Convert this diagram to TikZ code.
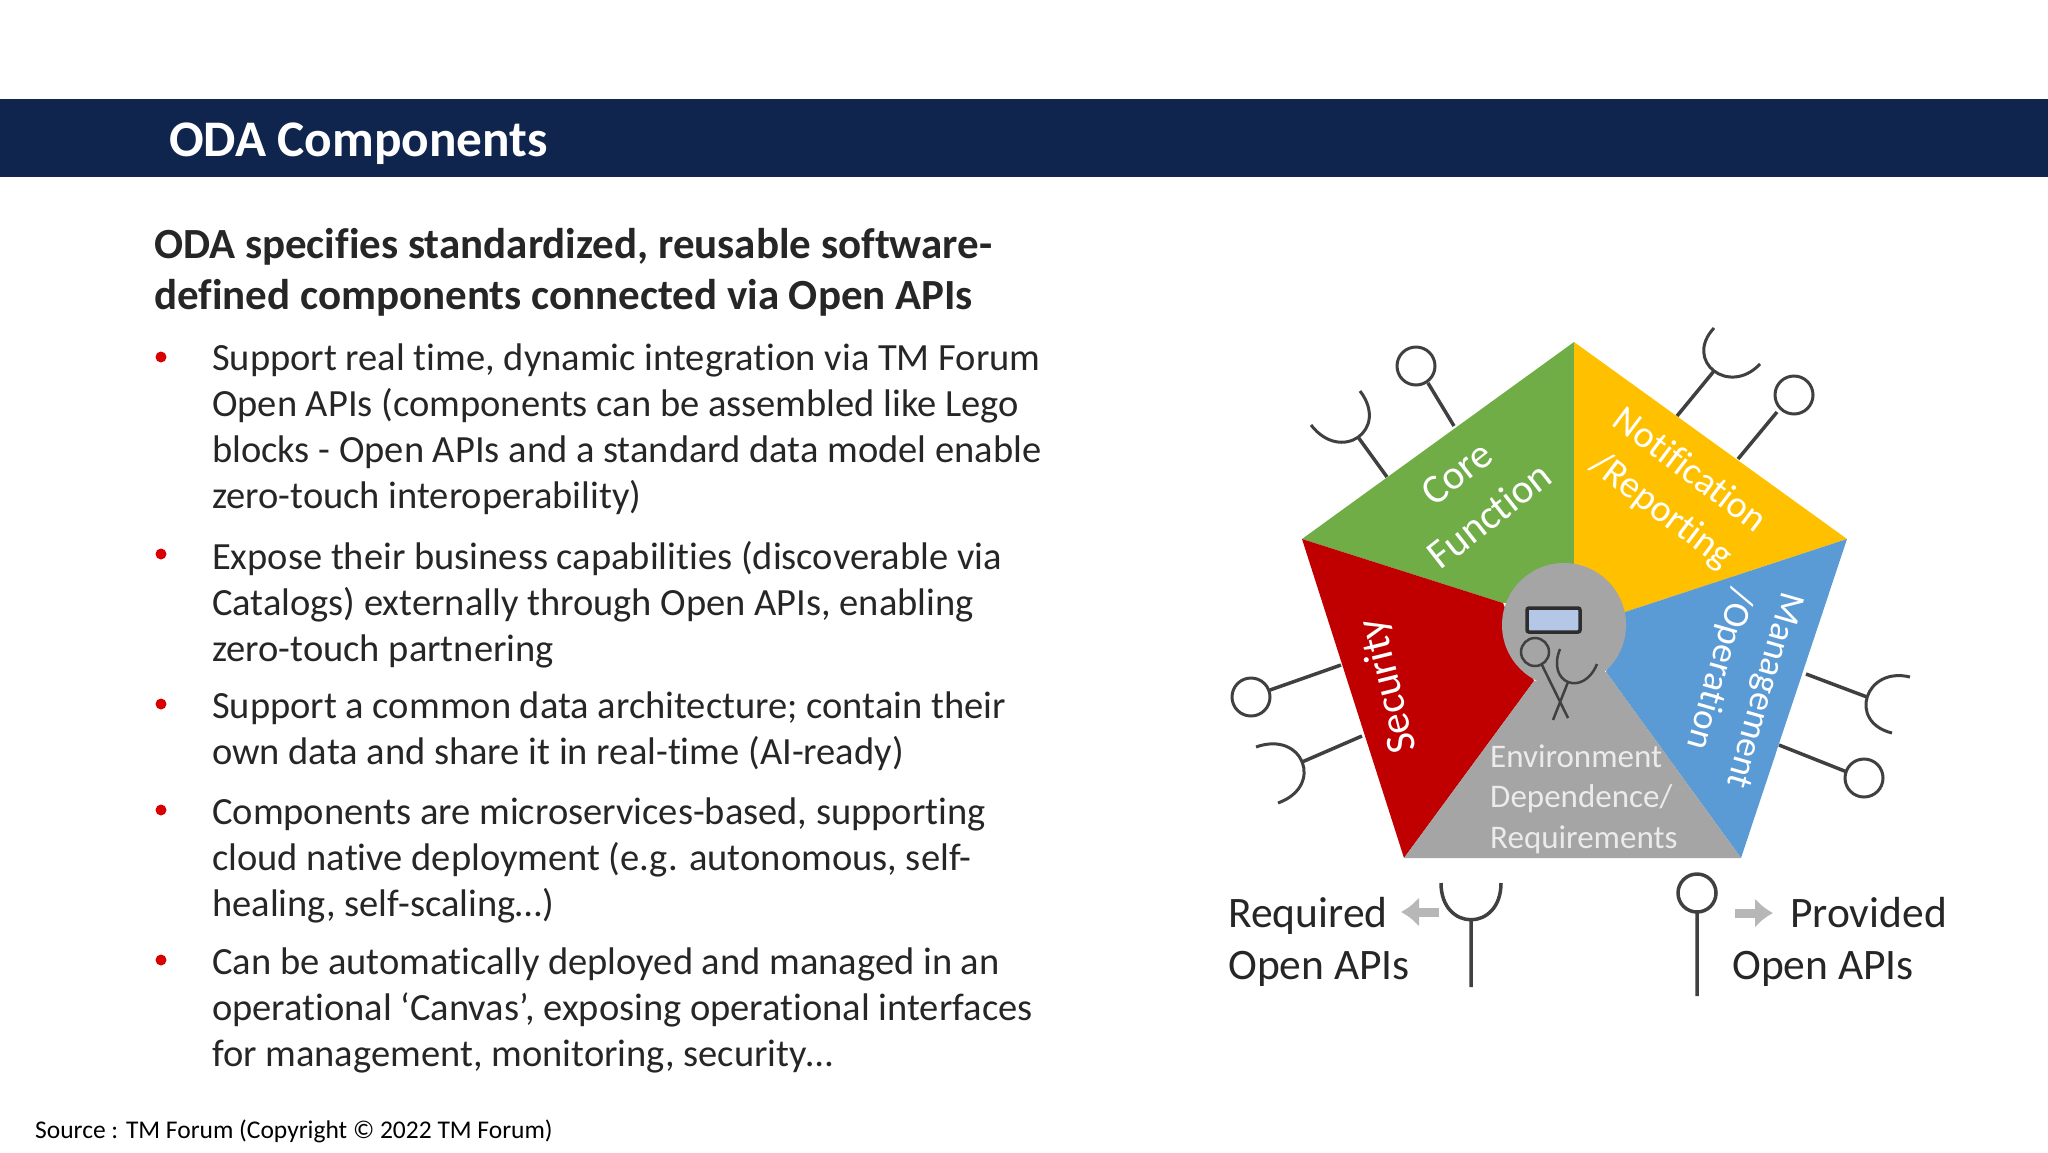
\documentclass[tikz,border=0pt]{standalone}
\usepackage{fontspec}
\setmainfont[RawFeature={-liga}]{Carlito}
\definecolor{bannerblue}{HTML}{10254D}
\definecolor{coregreen}{HTML}{70AD47}
\definecolor{notifyellow}{HTML}{FFC000}
\definecolor{mgmtblue}{HTML}{5B9BD5}
\definecolor{secred}{HTML}{C00000}
\definecolor{envgray}{HTML}{A5A5A5}
\definecolor{stemgray}{HTML}{404040}
\definecolor{dbblue}{HTML}{B4C7E7}
\tikzset{
  bodytext/.style={anchor=north west,inner sep=0,align=left,text=black!85,font=\fontsize{38.5}{46}\selectfont},
  secttext/.style={inner sep=0,text=white,font=\fontsize{38}{50}\selectfont},
  envtext/.style={anchor=base west,inner sep=0,text=white!92!black,font=\fontsize{33}{36}\selectfont},
  legendtext/.style={anchor=base west,inner sep=0,text=black!85,font=\fontsize{43.5}{50}\selectfont},
  bulletdot/.style={circle,fill=red!85!black,inner sep=0,minimum size=11pt},
  api/.style={draw=stemgray,line width=3.5pt},
  apiarrow/.style={-{Latex[length=18pt,width=30pt]},draw=envgray!80,line width=9pt}
}
\usetikzlibrary{arrows.meta}
\begin{document}
\begin{tikzpicture}[x=1pt,y=-1pt]
\useasboundingbox (0,0) rectangle (2048,1152);
\fill[bannerblue] (0,99) rectangle (2048,177);
\node[anchor=base west,inner sep=0,text=white,font=\fontsize{51.3}{50}\selectfont\bfseries] (title) at (169,156) {ODA Components};
\node[anchor=north west,inner sep=0,align=left,text=black!85,font=\fontsize{43}{51}\selectfont\bfseries] (lead) at (154,228)
  {ODA specifies standardized, reusable software-\\defined components connected via Open APIs};
% bullets
\foreach \y in {357,554,704,810,960}
  \node[bulletdot] (dot\y) at (161,\y) {};
\node[bodytext] (first) at (212,344) {Support real time, dynamic integration via TM Forum\\Open APIs (components can be assembled like Lego\\blocks - Open APIs and a standard data model enable\\zero-touch interoperability)};
\node[bodytext] (second) at (212,541) {Expose their business capabilities (discoverable via\\Catalogs) externally through Open APIs, enabling\\zero-touch partnering};
\node[bodytext] (third) at (212,692) {Support a common data architecture; contain their\\own data and share it in real-time (AI-ready)};
\node[bodytext] (fourth) at (212,798) {Components are microservices-based, supporting\\cloud native deployment (e.g. autonomous, self-\\healing, self-scaling…)};
\node[bodytext] (fifth) at (212,948) {Can be automatically deployed and managed in an\\operational ‘Canvas’, exposing operational interfaces\\for management, monitoring, security…};
\node[anchor=base west,inner sep=0,font=\fontsize{25.5}{30}\selectfont] (source) at (35,1138) {Source : TM Forum (Copyright © 2022 TM Forum)};
% sticks
\draw[api]
  (1454,426)--(1428,383)
  (1387,477)--(1358,437)
  (1677,416)--(1714,371)
  (1738,459)--(1777,412)
  (1806,674)--(1867,697)
  (1779,745)--(1847,772)
  (1341,665)--(1270,690)
  (1362,736)--(1302,762);
\draw[api,line width=3pt]
  (1416,366) circle (19)
  (1794,395) circle (19)
  (1864,778) circle (19)
  (1251,697) circle (19)
  (1311,425) .. controls (1341,464) and (1390,430) .. (1360,391)
  (1714,328) .. controls (1683,361) and (1729,397) .. (1760,364)
  (1910,677) .. controls (1865,666) and (1847,722) .. (1892,733)
  (1256,747) .. controls (1303,730) and (1325,786) .. (1278,803);
% pentagon
\fill[coregreen] (1574,342)--(1302,539)--(1503,603)--(1574,600)--cycle;
\fill[notifyellow] (1574,342)--(1847,539)--(1625,612)--(1574,600)--cycle;
\fill[mgmtblue] (1847,539)--(1741,858)--(1606,672)--(1625,612)--cycle;
\fill[secred] (1302,539)--(1404,858)--(1534,681)--(1503,603)--cycle;
\fill[envgray] (1404,858)--(1741,858)--(1606,672)--(1534,681)--cycle;
\fill[envgray] (1564,625) circle (62);
% middle
\draw[draw=stemgray!70!black,fill=dbblue,line width=3.5pt,rounded corners=2pt] (1527,608) rectangle (1580,632);
\draw[stemgray,line width=2.5pt]
  (1535,652) circle (14)
  (1542,665)--(1568,718)
  (1568,682)--(1553,720)
  (1560,649) .. controls (1546,683) and (1583,698) .. (1597,664);
% labels
\node[secttext,rotate=38,font=\fontsize{41}{50}\selectfont] (core) at (1457,473) {Core};
\node[secttext,rotate=38,font=\fontsize{41}{50}\selectfont] (function) at (1489,515) {Function};
\node[secttext,rotate=-37] (notification) at (1691,469) {Notification};
\node[secttext,rotate=-37] (reporting) at (1661,511) {/Reporting};
\node[secttext,rotate=-106,font=\fontsize{37}{50}\selectfont] (management) at (1763,690) {Management};
\node[secttext,rotate=-106,font=\fontsize{37}{50}\selectfont] (operation) at (1719,669) {/Operation};
\node[secttext,rotate=104,font=\fontsize{42}{50}\selectfont] (security) at (1389,686) {Security};
\node[envtext] (environment) at (1490,767) {Environment};
\node[envtext] (dependence) at (1490,807) {Dependence/};
\node[envtext] (requirements) at (1490,848) {Requirements};
% legend
\node[legendtext] (required) at (1228,927) {Required};
\node[legendtext] (openreq) at (1228,979) {Open APIs};
\node[legendtext] (provided) at (1790,927) {Provided};
\node[legendtext] (openprov) at (1732,979) {Open APIs};
\draw[apiarrow] (1439,912)--(1401,912);
\draw[apiarrow] (1735,913)--(1773,913);
\draw[api]
  (1441,883) .. controls (1441,932) and (1501,932) .. (1501,883)
  (1471,920)--(1471,987)
  (1697,893) circle (19)
  (1697,912)--(1697,996);
\end{tikzpicture}
\end{document}
